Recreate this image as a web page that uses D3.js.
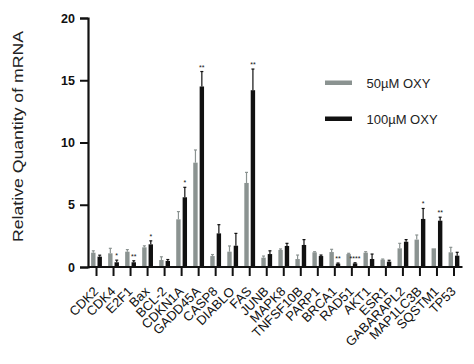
<!DOCTYPE html>
<html>
<head>
<meta charset="utf-8">
<script src="https://cdn.jsdelivr.net/npm/d3@7"></script>
<style>
  body { margin: 0; background: #fff; }
  svg text { font-family: "Liberation Sans", Arial, sans-serif; }
</style>
</head>
<body>
<div id="chart"></div>
<script>
const genes = ["CDK2", "CDK4", "E2F1", "Bax", "BCL-2", "CDKN1A", "GADD45A", "CASP8", "DIABLO", "FAS", "JUNB",
  "MAPK8", "TNFSF10B", "PARP1", "BRCA1", "RAD51", "AKT1", "ESR1", "GABARAPL2", "MAP1LC3B", "SQSTM1", "TP53"];
const oxy50 = [1.15, 1.1, 1.23, 1.58, 0.56, 3.83, 8.38, 0.88, 1.23, 6.75, 0.75, 1.37, 0.64, 1.18, 1.2, 1.04, 1.15, 0.59, 1.5, 2.2, 1.5, 1.18];
const oxy50Err = [0.15, 0.4, 0.17, 0.12, 0.26, 0.62, 1.02, 0.12, 0.46, 0.85, 0.13, 0.08, 0.32, 0.05, 0.22, 0.06, 0.08, 0.05, 0.4, 0.37, 0, 0.4];
const oxy100 = [0.83, 0.38, 0.38, 1.82, 0.48, 5.6, 14.5, 2.7, 1.71, 14.2, 1.04, 1.69, 1.77, 0.88, 0.27, 0.29, 0.64, 0.43, 2.03, 3.86, 3.72, 0.91];
const oxy100Err = [0.12, 0.17, 0.12, 0.28, 0.12, 0.8, 1.2, 0.7, 0.99, 1.7, 0.26, 0.21, 0.43, 0.08, 0.05, 0.05, 0.4, 0.11, 0.17, 0.84, 0.28, 0.27];
const stars100 = ["", "*", "**", "*", "", "*", "**", "", "", "**", "", "", "", "", "**", "****", "", "", "", "*", "**", ""];
const yTicks = [0, 5, 10, 15, 20];
const seriesNames = ["50\u00b5M OXY", "100\u00b5M OXY"];

const width = 474, height = 364;
const grey = "#8b9391", black = "#111111";
const barW = 4.4, gap = 1;

const svg = d3.select("#chart").append("svg")
  .attr("width", width).attr("height", height);

const x = d3.scaleBand().domain(genes).range([88, 462.5]).padding(0);
const y = d3.scaleLinear().domain([0, 20]).range([267, 18]);

const rows = genes.map((g, i) => ({
  gene: g, v50: oxy50[i], e50: oxy50Err[i], v100: oxy100[i], e100: oxy100Err[i], star: stars100[i]
}));

function drawSeries(key, errKey, color, offset) {
  const g = svg.append("g");
  const cx = d => x(d.gene) + x.bandwidth() / 2 + offset + barW / 2;
  g.selectAll("line.err").data(rows.filter(d => d[errKey] > 0)).enter().append("line")
    .attr("x1", cx).attr("x2", cx)
    .attr("y1", d => y(d[key]))
    .attr("y2", d => y(d[key] + d[errKey]))
    .attr("stroke", color).attr("stroke-width", 1.2);
  g.selectAll("line.cap").data(rows.filter(d => d[errKey] > 0)).enter().append("line")
    .attr("x1", d => cx(d) - 1.5)
    .attr("x2", d => cx(d) + 1.5)
    .attr("y1", d => y(d[key] + d[errKey]))
    .attr("y2", d => y(d[key] + d[errKey]))
    .attr("stroke", color).attr("stroke-width", 1.2);
  g.selectAll("rect").data(rows).enter().append("rect")
    .attr("x", d => x(d.gene) + x.bandwidth() / 2 + offset)
    .attr("y", d => y(d[key]))
    .attr("width", barW)
    .attr("height", d => y(0) - y(d[key]))
    .attr("fill", color);
}

drawSeries("v50", "e50", grey, -gap - barW);
drawSeries("v100", "e100", black, gap);

// significance stars
svg.append("g").selectAll("text").data(rows.filter(d => d.star)).enter().append("text")
  .attr("x", d => x(d.gene) + x.bandwidth() / 2 + gap + barW / 2)
  .attr("y", d => y(d.v100 + d.e100) - 2)
  .attr("text-anchor", "middle")
  .attr("font-size", 7)
  .attr("fill", black)
  .text(d => d.star);

// y axis
const yAxis = svg.append("g")
  .attr("transform", "translate(88,0)")
  .call(d3.axisLeft(y).tickValues(yTicks).tickSize(8).tickPadding(5));
yAxis.select(".domain").attr("stroke", black).attr("stroke-width", 2.2);
yAxis.selectAll(".tick line").attr("stroke", black).attr("stroke-width", 2);
yAxis.selectAll(".tick text").attr("font-size", 12.5).attr("font-weight", "bold").attr("fill", black)
  .attr("font-family", "Liberation Sans, Arial, sans-serif");

// x axis
const xAxis = svg.append("g")
  .attr("transform", "translate(0,267)")
  .call(d3.axisBottom(x).tickSize(9).tickFormat(""));
xAxis.select(".domain").attr("stroke", black).attr("stroke-width", 2.2).attr("d", "M88,0H462.5");
xAxis.selectAll(".tick line").attr("stroke", black).attr("stroke-width", 2);

svg.append("g").selectAll("text").data(genes).enter().append("text")
  .attr("transform", d => `translate(${x(d) + x.bandwidth() / 2 - 0.5},${289}) rotate(-45)`)
  .attr("text-anchor", "end")
  .attr("dy", "0.35em")
  .attr("font-size", 13)
  .attr("fill", black)
  .text(d => d);

// y title
svg.append("text")
  .attr("transform", "translate(23,136.5) rotate(-90)")
  .attr("text-anchor", "middle")
  .attr("font-size", 15.5)
  .attr("textLength", 211)
  .attr("lengthAdjust", "spacingAndGlyphs")
  .attr("fill", "#222")
  .text("Relative Quantity of mRNA");

// legend
const legend = svg.append("g");
[grey, black].forEach((c, i) => {
  legend.append("rect")
    .attr("x", 325).attr("y", 80.5 + i * 36).attr("width", 27).attr("height", 4.5)
    .attr("fill", c);
  legend.append("text")
    .attr("x", 366.5).attr("y", 83 + i * 36).attr("dy", "0.35em")
    .attr("font-size", 13).attr("fill", "#222")
    .text(seriesNames[i]);
});
</script>
</body>
</html>
